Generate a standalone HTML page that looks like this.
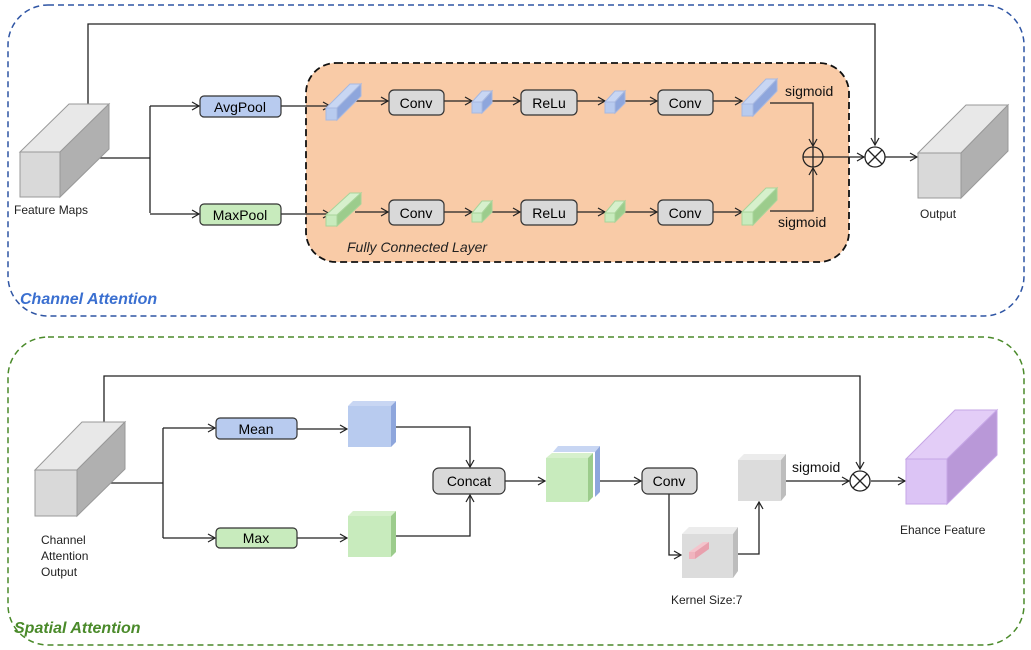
<!DOCTYPE html>
<html><head><meta charset="utf-8"><style>body{margin:0;background:#fff}svg{display:block;font-family:"Liberation Sans",sans-serif}</style></head><body>
<svg width="1031" height="650" viewBox="0 0 1031 650">
<defs><marker id="a" markerWidth="10" markerHeight="10" refX="8" refY="5" orient="auto" markerUnits="userSpaceOnUse"><path d="M1,1 L8,5 L1,9" fill="none" stroke="#222" stroke-width="1.2"/></marker></defs>
<rect x="8" y="5" width="1016" height="311" rx="40" fill="none" stroke="#2f55a4" stroke-width="1.5" stroke-dasharray="6,4"/>
<rect x="8" y="337" width="1016" height="308" rx="40" fill="none" stroke="#4a8a2a" stroke-width="1.5" stroke-dasharray="6,4"/>
<rect x="306" y="63" width="543" height="199" rx="30" fill="#f9cba7" stroke="#111" stroke-width="1.8" stroke-dasharray="7,4"/>
<g stroke="#222" stroke-width="1.3" fill="none">
<path d="M88,104 V24 H875 V145" marker-end="url(#a)"/>
<path d="M100,158 H150"/><path d="M150,106 V213"/>
<path d="M150,106 H199" marker-end="url(#a)"/><path d="M150,214 H199" marker-end="url(#a)"/>
<path d="M281,106 H330" marker-end="url(#a)"/><path d="M281,214 H330" marker-end="url(#a)"/>
<path d="M355,101 H388" marker-end="url(#a)"/><path d="M444,101 H472" marker-end="url(#a)"/><path d="M490,101 H520" marker-end="url(#a)"/><path d="M577,101 H605" marker-end="url(#a)"/><path d="M622,101 H657" marker-end="url(#a)"/><path d="M713,101 H742" marker-end="url(#a)"/>
<path d="M355,212 H388" marker-end="url(#a)"/><path d="M444,212 H472" marker-end="url(#a)"/><path d="M490,212 H520" marker-end="url(#a)"/><path d="M577,212 H605" marker-end="url(#a)"/><path d="M622,212 H657" marker-end="url(#a)"/><path d="M713,212 H742" marker-end="url(#a)"/>
<path d="M770,103 H813 V146" marker-end="url(#a)"/><path d="M770,211 H813 V168" marker-end="url(#a)"/>
<path d="M823,157 H864" marker-end="url(#a)"/><path d="M885,157 H917" marker-end="url(#a)"/>
<circle cx="813" cy="157" r="10"/><path d="M803,157H823M813,147V167"/>
<circle cx="875" cy="157" r="10"/><path d="M868,150L882,164M882,150L868,164"/>
<path d="M104,422 V376 H860 V469" marker-end="url(#a)"/>
<path d="M110,483 H163"/><path d="M163,428 V538"/>
<path d="M163,428 H215" marker-end="url(#a)"/><path d="M163,538 H215" marker-end="url(#a)"/>
<path d="M297,429 H347" marker-end="url(#a)"/><path d="M297,538 H347" marker-end="url(#a)"/>
<path d="M396,427 H470 V467" marker-end="url(#a)"/><path d="M396,536 H470 V495" marker-end="url(#a)"/>
<path d="M505,481 H545" marker-end="url(#a)"/><path d="M600,481 H641" marker-end="url(#a)"/>
<path d="M669,494 V555 H681" marker-end="url(#a)"/>
<path d="M738,554 H759 V502" marker-end="url(#a)"/>
<path d="M786,481 H849" marker-end="url(#a)"/><path d="M871,481 H905" marker-end="url(#a)"/>
<circle cx="860" cy="481" r="10"/><path d="M853,474L867,488M867,474L853,488"/>
</g>
<g stroke="#999" stroke-width="1">
<polygon points="20,152 69,104 109,104 60,152" fill="#e8e8e8"/><polygon points="60,152 109,104 109,149 60,197" fill="#b0b0b0"/><rect x="20" y="152" width="40" height="45" fill="#d9d9d9"/>
<polygon points="918,153 966,105 1008,105 961,153" fill="#e8e8e8"/><polygon points="961,153 1008,105 1008,151 961,198" fill="#b0b0b0"/><rect x="918" y="153" width="43" height="45" fill="#d9d9d9"/>
<polygon points="35,470 82,422 125,422 77,470" fill="#e8e8e8"/><polygon points="77,470 125,422 125,469 77,516" fill="#b0b0b0"/><rect x="35" y="470" width="42" height="46" fill="#d9d9d9"/>
</g>
<g stroke="#c6a6e6"><polygon points="906,459 955,410 997,410 947,459" fill="#e3cdf7"/><polygon points="947,459 997,410 997,455 947,504" fill="#b998d8"/><rect x="906" y="459" width="41" height="45" fill="#dcc4f5"/></g>
<g stroke="#a7b8e0"><polygon points="326,108 350,84 361,84 337,108" fill="#c8d6f3"/><polygon points="337,108 361,84 361,96 337,120" fill="#8ea6dc"/><rect x="326" y="108" width="11" height="12" fill="#b8cbef"/>
<polygon points="472,102 482,91 492,91 482,102" fill="#c8d6f3"/><polygon points="482,102 492,91 492,103 482,113" fill="#8ea6dc"/><rect x="472" y="102" width="10" height="11" fill="#b8cbef"/>
<polygon points="605,102 615,91 625,91 615,102" fill="#c8d6f3"/><polygon points="615,102 625,91 625,103 615,113" fill="#8ea6dc"/><rect x="605" y="102" width="10" height="11" fill="#b8cbef"/>
<polygon points="742,104 766,79 777,79 753,104" fill="#c8d6f3"/><polygon points="753,104 777,79 777,91 753,116" fill="#8ea6dc"/><rect x="742" y="104" width="11" height="12" fill="#b8cbef"/></g>
<g stroke="#a8d49a"><polygon points="326,215 350,193 361,193 337,215" fill="#d6f0cc"/><polygon points="337,215 361,193 361,204 337,226" fill="#9ccc8c"/><rect x="326" y="215" width="11" height="11" fill="#c8ebbd"/>
<polygon points="472,213 482,201 492,201 482,213" fill="#d6f0cc"/><polygon points="482,213 492,201 492,212 482,222" fill="#9ccc8c"/><rect x="472" y="213" width="10" height="9" fill="#c8ebbd"/>
<polygon points="605,213 615,201 625,201 615,213" fill="#d6f0cc"/><polygon points="615,213 625,201 625,212 615,222" fill="#9ccc8c"/><rect x="605" y="213" width="10" height="9" fill="#c8ebbd"/>
<polygon points="742,212 766,188 777,188 753,212" fill="#d6f0cc"/><polygon points="753,212 777,188 777,200 753,225" fill="#9ccc8c"/><rect x="742" y="212" width="11" height="13" fill="#c8ebbd"/></g>
<polygon points="348,406 353,401 396,401 391,406" fill="#c8d6f3"/><polygon points="391,406 396,401 396,442 391,447" fill="#8ea6dc"/><rect x="348" y="406" width="43" height="41" fill="#b8cbef"/>
<polygon points="348,516 353,511 396,511 391,516" fill="#d6f0cc"/><polygon points="391,516 396,511 396,552 391,557" fill="#9ccc8c"/><rect x="348" y="516" width="43" height="41" fill="#c8ebbd"/>
<polygon points="553,452 558,446 600,446 595,452" fill="#c8d6f3"/><polygon points="595,452 600,446 600,492 595,497" fill="#8ea6dc"/>
<polygon points="546,458 552,453 593,453 588,458" fill="#d6f0cc"/><polygon points="588,458 593,453 593,497 588,502" fill="#9ccc8c"/><rect x="546" y="458" width="42" height="44" fill="#c8ebbd"/>
<polygon points="738,460 744,454 786,454 781,460" fill="#ececec"/><polygon points="781,460 786,454 786,495 781,501" fill="#bdbdbd"/><rect x="738" y="460" width="43" height="41" fill="#dcdcdc"/>
<polygon points="682,534 689,527 738,527 733,534" fill="#ececec"/><polygon points="733,534 738,527 738,571 733,578" fill="#bdbdbd"/><rect x="682" y="534" width="51" height="44" fill="#dcdcdc"/>
<polygon points="689,552 703,542 709,542 695,552" fill="#f4c4cc"/><polygon points="695,552 709,542 709,549 695,559" fill="#e8a0ad"/><rect x="689" y="552" width="6" height="7" fill="#f0b4be"/>
<g stroke="#333" stroke-width="1.2" font-size="14" text-anchor="middle">
<rect x="200" y="96" width="81" height="21" rx="4" fill="#b8cbef"/><text x="240" y="112" stroke="none">AvgPool</text>
<rect x="200" y="204" width="81" height="21" rx="4" fill="#c8ebbd"/><text x="240" y="220" stroke="none">MaxPool</text>
<rect x="389" y="90" width="55" height="25" rx="5" fill="#d9d9d9"/><text x="416" y="108" stroke="none">Conv</text>
<rect x="521" y="90" width="56" height="25" rx="5" fill="#d9d9d9"/><text x="549" y="108" stroke="none">ReLu</text>
<rect x="658" y="90" width="55" height="25" rx="5" fill="#d9d9d9"/><text x="685" y="108" stroke="none">Conv</text>
<rect x="389" y="200" width="55" height="25" rx="5" fill="#d9d9d9"/><text x="416" y="218" stroke="none">Conv</text>
<rect x="521" y="200" width="56" height="25" rx="5" fill="#d9d9d9"/><text x="549" y="218" stroke="none">ReLu</text>
<rect x="658" y="200" width="55" height="25" rx="5" fill="#d9d9d9"/><text x="685" y="218" stroke="none">Conv</text>
<rect x="216" y="418" width="81" height="21" rx="4" fill="#b8cbef"/><text x="256" y="434" stroke="none">Mean</text>
<rect x="216" y="528" width="81" height="20" rx="4" fill="#c8ebbd"/><text x="256" y="543" stroke="none">Max</text>
<rect x="433" y="468" width="72" height="26" rx="6" fill="#d9d9d9"/><text x="469" y="486" stroke="none">Concat</text>
<rect x="642" y="468" width="55" height="26" rx="6" fill="#d9d9d9"/><text x="669" y="486" stroke="none">Conv</text>
</g>
<g font-size="14" fill="#111"><text x="785" y="96">sigmoid</text><text x="778" y="227">sigmoid</text><text x="792" y="472">sigmoid</text></g>
<g font-size="12" fill="#222"><text x="14" y="214">Feature Maps</text><text x="920" y="218">Output</text>
<text x="41" y="544">Channel</text><text x="41" y="560">Attention</text><text x="41" y="576">Output</text>
<text x="900" y="534">Ehance Feature</text><text x="671" y="604">Kernel Size:7</text></g>
<text x="347" y="252" font-size="14" font-style="italic" fill="#222">Fully Connected Layer</text>
<text x="20" y="304" font-size="16" font-weight="bold" font-style="italic" fill="#3a6fd0">Channel Attention</text>
<text x="14" y="633" font-size="16" font-weight="bold" font-style="italic" fill="#4a8a2a">Spatial Attention</text>
</svg></body></html>
